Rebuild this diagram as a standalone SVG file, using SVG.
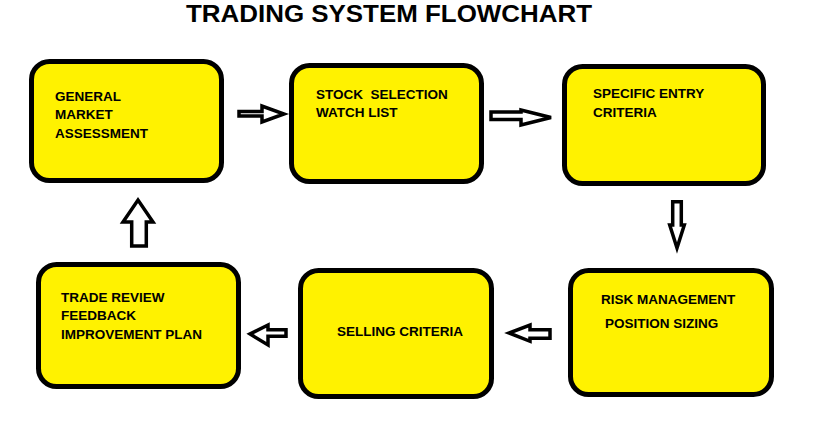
<svg xmlns="http://www.w3.org/2000/svg" width="829" height="435" viewBox="0 0 829 435">
<style>
.box{fill:#FFF200;stroke:#000;stroke-width:5}
.lbl{font-family:"Liberation Sans",Arial,sans-serif;font-weight:bold;font-size:13.5px;fill:#000}
.arr{fill:#fff;stroke:#000;stroke-width:3.5;stroke-linejoin:miter}
.title{font-family:"Liberation Sans",Arial,sans-serif;font-weight:bold;font-size:23px;fill:#000}
</style>
<rect width="829" height="435" fill="#fff"/>
<text class="title" x="186" y="22" textLength="406" lengthAdjust="spacingAndGlyphs">TRADING SYSTEM FLOWCHART</text>
<g id="n1">
<rect class="box" x="31.5" y="61.5" width="190" height="119" rx="18"/>
<text class="lbl" x="55" y="101">GENERAL</text>
<text class="lbl" x="55" y="119">MARKET</text>
<text class="lbl" x="55" y="138">ASSESSMENT</text>
</g>
<g id="n2">
<rect class="box" x="291.5" y="65.5" width="190" height="116" rx="18"/>
<text class="lbl" x="316" y="99" xml:space="preserve">STOCK  SELECTION</text>
<text class="lbl" x="316" y="117">WATCH LIST</text>
</g>
<g id="n3">
<rect class="box" x="564.5" y="66.5" width="199" height="117" rx="18"/>
<text class="lbl" x="593" y="98">SPECIFIC ENTRY</text>
<text class="lbl" x="593" y="117">CRITERIA</text>
</g>
<g id="n4">
<rect class="box" x="570.5" y="270.5" width="201" height="124" rx="18"/>
<text class="lbl" x="601" y="304">RISK MANAGEMENT</text>
<text class="lbl" x="605" y="328">POSITION SIZING</text>
</g>
<g id="n5">
<rect class="box" x="300.5" y="270.5" width="191" height="126" rx="18"/>
<text class="lbl" x="337" y="336">SELLING CRITERIA</text>
</g>
<g id="n6">
<rect class="box" x="38.5" y="264.5" width="200" height="122" rx="18"/>
<text class="lbl" x="61" y="302">TRADE REVIEW</text>
<text class="lbl" x="61" y="320">FEEDBACK</text>
<text class="lbl" x="61" y="339">IMPROVEMENT PLAN</text>
</g>
<g id="connectors">
<path class="arr" d="M239,111.5 L262,111.5 L262,106 L284,114 L262,122 L262,116 L239,116 Z"/>
<path class="arr" d="M491,112 L521,112 L521,110 L551,117.5 L521,125 L521,119.5 L491,119.5 Z"/>
<path class="arr" d="M672.7,201.7 L681.3,201.7 L681.3,225 L684.3,225 L677,248 L669.7,225 L672.7,225 Z"/>
<path class="arr" d="M131.7,246 L131.7,222 L123,222 L138,200 L153,222 L146.3,222 L146.3,246 Z"/>
<path class="arr" d="M550,329.7 L530,329.7 L530,325 L509,333 L530,341.3 L530,338.3 L550,338.3 Z"/>
<path class="arr" d="M286,329.7 L268,329.7 L268,325 L250,334 L268,345 L268,336.3 L286,336.3 Z"/>
</g>
</svg>
